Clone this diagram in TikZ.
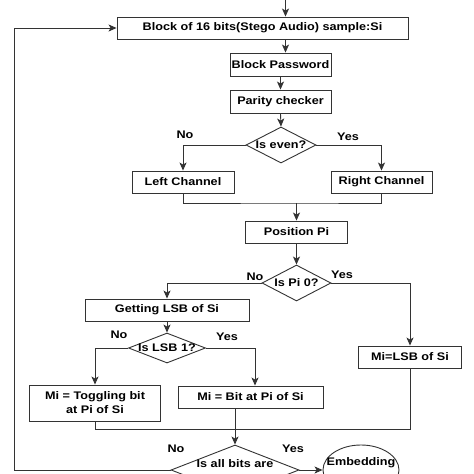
\documentclass[tikz,border=0pt]{standalone}
\usepackage{fontspec}
\setmainfont{Liberation Sans}[FakeStretch=1.15]
\usetikzlibrary{shapes.geometric,arrows.meta}
\begin{document}
\begin{tikzpicture}[x=1pt,y=-1pt,
  every node/.style={font=\fontsize{11}{14}\selectfont\bfseries},
  ln/.style={draw=black!80,line width=0.9pt},
  box/.style={ln,fill=white,inner sep=0pt,align=center},
  dia/.style={ln,diamond,inner sep=0pt},
  txt/.style={inner sep=0pt,align=center},
  arr/.style={ln,-{Stealth[length=8pt,width=7pt,inset=2pt]}},
  con/.style={ln}]
\useasboundingbox (0,0) rectangle (474,474);
\fill[white] (0,0) rectangle (474,474);
% nodes
\node[box,minimum width=291,minimum height=22] (b16) at (262.5,28) {Block of 16 bits(Stego Audio) sample:Si};
\node[box,minimum width=101,minimum height=23] (pwd) at (280.5,64.5) {Block Password};
\node[box,minimum width=101,minimum height=23] (par) at (280.5,101.5) {Parity checker};
\node[dia,minimum width=70,minimum height=36] (even) at (281,145) {};
\node[txt] (event) at (281,145) {Is even?};
\node[box,minimum width=102,minimum height=22] (left) at (183,182) {Left Channel};
\node[box,minimum width=101,minimum height=22] (right) at (381.5,182) {Right Channel};
\node[box,minimum width=102,minimum height=22] (pos) at (296.5,232) {Position Pi};
\node[dia,minimum width=69,minimum height=36] (pi0) at (296.5,283) {};
\node[txt] (pi0t) at (296.5,283) {Is Pi 0?};
\node[box,minimum width=164,minimum height=22] (lsb) at (167,310) {Getting LSB of Si};
\node[dia,minimum width=77,minimum height=30] (lsb1) at (167,348) {};
\node[txt] (lsb1t) at (167,348) {Is LSB 1?};
\node[box,minimum width=131,minimum height=36] (tog) at (95,403) {Mi = Toggling bit\\at Pi of Si};
\node[box,minimum width=145,minimum height=22] (bit) at (250.5,397) {Mi = Bit at Pi of Si};
\node[box,minimum width=103,minimum height=22] (milsb) at (410,357) {Mi=LSB of Si};
\node[dia,minimum width=128,minimum height=50] (all) at (235,470) {};
\node[txt] (allt) at (235,464) {Is all bits are};
\node[ln,ellipse,inner sep=0pt,minimum width=76,minimum height=50] (emb) at (361,470) {};
\node[txt] (embt) at (361,463) {Embedding};
% labels
\node[txt] (no1) at (185,135) {No};
\node[txt] (yes1) at (348,137) {Yes};
\node[txt] (no2) at (255,277) {No};
\node[txt] (yes2) at (342,275) {Yes};
\node[txt] (no3) at (119,335) {No};
\node[txt] (yes3) at (227,337) {Yes};
\node[txt] (no4) at (176,449) {No};
\node[txt] (yes4) at (293,449) {Yes};
% coordinates
\coordinate (start) at (285.5,0);
\coordinate (m1) at (296.5,203);
\coordinate (bx) at (255,0);
\coordinate (m2r) at (410,429);
\coordinate (lp) at (14,470);
% connectors
\draw[arr] (start) -- (start |- b16.north);
\draw[arr] (b16.south -| start) -- (start |- pwd.north);
\draw[arr] (pwd.south) -- (par.north);
\draw[arr] (par.south) -- (even.north);
\draw[arr] (even.west) -| (left.north);
\draw[arr] (even.east) -| (right.north);
\draw[con] (left.south) |- (m1) -| (right.south);
\draw[arr] (m1) -- (pos.north);
\draw[arr] (pos.south) -- (pi0.north);
\draw[arr] (pi0.west) -| (lsb.north);
\draw[arr] (pi0.east) -| (milsb.north);
\draw[arr] (lsb.south) -- (lsb1.north);
\draw[arr] (lsb1.west) -| (tog.north);
\draw[arr] (lsb1.east) -| (bit.north -| bx);
\draw[con] (tog.south) |- (m2r) -- (milsb.south);
\draw[arr] (bit.south -| all) -- (all.north);
\draw[arr] (all.west) -- (lp) |- (b16.west);
\draw[arr] (all.east) -- (emb.west);
\end{tikzpicture}
\end{document}
